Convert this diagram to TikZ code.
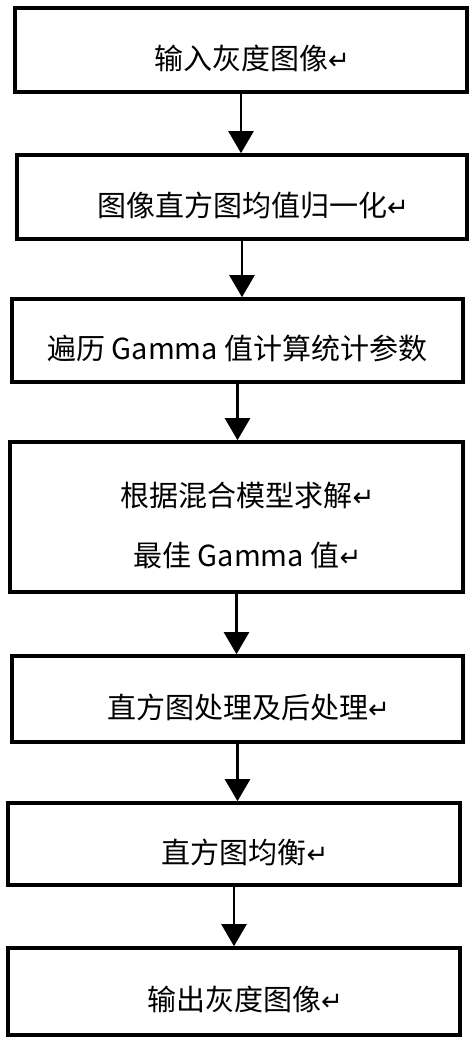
\documentclass[tikz,border=0pt]{standalone}
\usepackage{fontspec}
\setmainfont{Noto Sans CJK SC}
\newfontfamily\symfont{DejaVu Sans}
\usetikzlibrary{arrows.meta}
\begin{document}
\begin{tikzpicture}[>={Triangle[width=25pt,length=22pt]},x=1pt,y=-1pt]
        \tikzstyle{box}=[draw,line width=3.6pt,inner sep=0pt]
        \tikzstyle{txt}=[font=\fontsize{29}{60}\selectfont,inner sep=0pt,align=center]
        \tikzstyle{link}=[->,line width=2.4pt]
        \newcommand\retmark{\rlap{\symfont\fontsize{26}{26}\selectfont ↵}}
        \useasboundingbox(0,0)rectangle(474,1043);
        % boxes
        \node[box,minimum width=452pt,minimum height=84pt](b1)at(241,50){};
        \node[box,minimum width=450pt,minimum height=84pt](b2)at(242,197){};
        \node[box,minimum width=451pt,minimum height=83pt](b3)at(237.5,340.5){};
        \node[box,minimum width=453pt,minimum height=150pt](b4)at(236.5,517){};
        \node[box,minimum width=451pt,minimum height=86pt](b5)at(237.5,699){};
        \node[box,minimum width=452pt,minimum height=82pt](b6)at(234,844){};
        \node[box,minimum width=452pt,minimum height=87pt](b7)at(234,991.5){};
        % texts
        \node[txt](t1)at([yshift=-8pt]b1.center){输入灰度图像\retmark};
        \node[txt](t2)at([yshift=-8pt]b2.center){图像直方图均值归一化\retmark};
        \node[txt](t3)at([yshift=-8pt]b3.center){遍历 Gamma 值计算统计参数};
        \node[txt](t4)at([yshift=-8pt]b4.center){根据混合模型求解\retmark\\最佳 Gamma 值\retmark};
        \node[txt](t5)at([yshift=-8pt]b5.center){直方图处理及后处理\retmark};
        \node[txt](t6)at([yshift=-8pt]b6.center){直方图均衡\retmark};
        \node[txt](t7)at([yshift=-8pt]b7.center){输出灰度图像\retmark};
        % arrows
        \draw[link](b1.south)--(b1.south|-b2.north);
        \draw[link](b2.south)--(b2.south|-b3.north);
        \draw[link](b3.south)--(b3.south|-b4.north);
        \draw[link](b4.south)--(b4.south|-b5.north);
        \draw[link](b5.south)--(b5.south|-b6.north);
        \draw[link](b6.south)--(b6.south|-b7.north);
\end{tikzpicture}
\end{document}
